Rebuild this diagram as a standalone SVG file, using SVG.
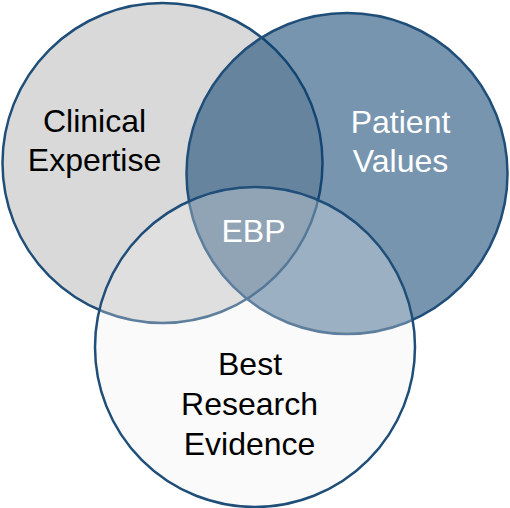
<svg xmlns="http://www.w3.org/2000/svg" width="510" height="508" viewBox="0 0 510 508">
  <style>
    .ring { stroke: #1f4e79; stroke-width: 2.5; }
    .lbl { font-family: "Liberation Sans", Arial, sans-serif; font-size: 32px; text-anchor: middle; }
    .dark { fill: #000000; }
    .light { fill: #ffffff; }
  </style>
  <rect width="510" height="508" fill="#ffffff"/>
  <g id="clinical-expertise">
    <circle class="ring" cx="162.5" cy="163" r="160" fill="#d9d9d9"/>
    <text class="lbl dark" x="94.5" y="132">Clinical</text>
    <text class="lbl dark" x="94.5" y="171">Expertise</text>
  </g>
  <g id="patient-values">
    <circle class="ring" cx="347" cy="173.5" r="160.5" fill="#0a3e6e" fill-opacity="0.55"/>
    <text class="lbl light" x="400.5" y="133">Patient</text>
    <text class="lbl light" x="400.5" y="172">Values</text>
  </g>
  <g id="best-research-evidence">
    <circle class="ring" cx="255" cy="347" r="160" fill="#eeeeee" fill-opacity="0.3"/>
    <text class="lbl dark" x="250" y="375">Best</text>
    <text class="lbl dark" x="249.5" y="415">Research</text>
    <text class="lbl dark" x="249.5" y="455">Evidence</text>
  </g>
  <g id="ebp">
    <text class="lbl light" x="253.5" y="242">EBP</text>
  </g>
</svg>
